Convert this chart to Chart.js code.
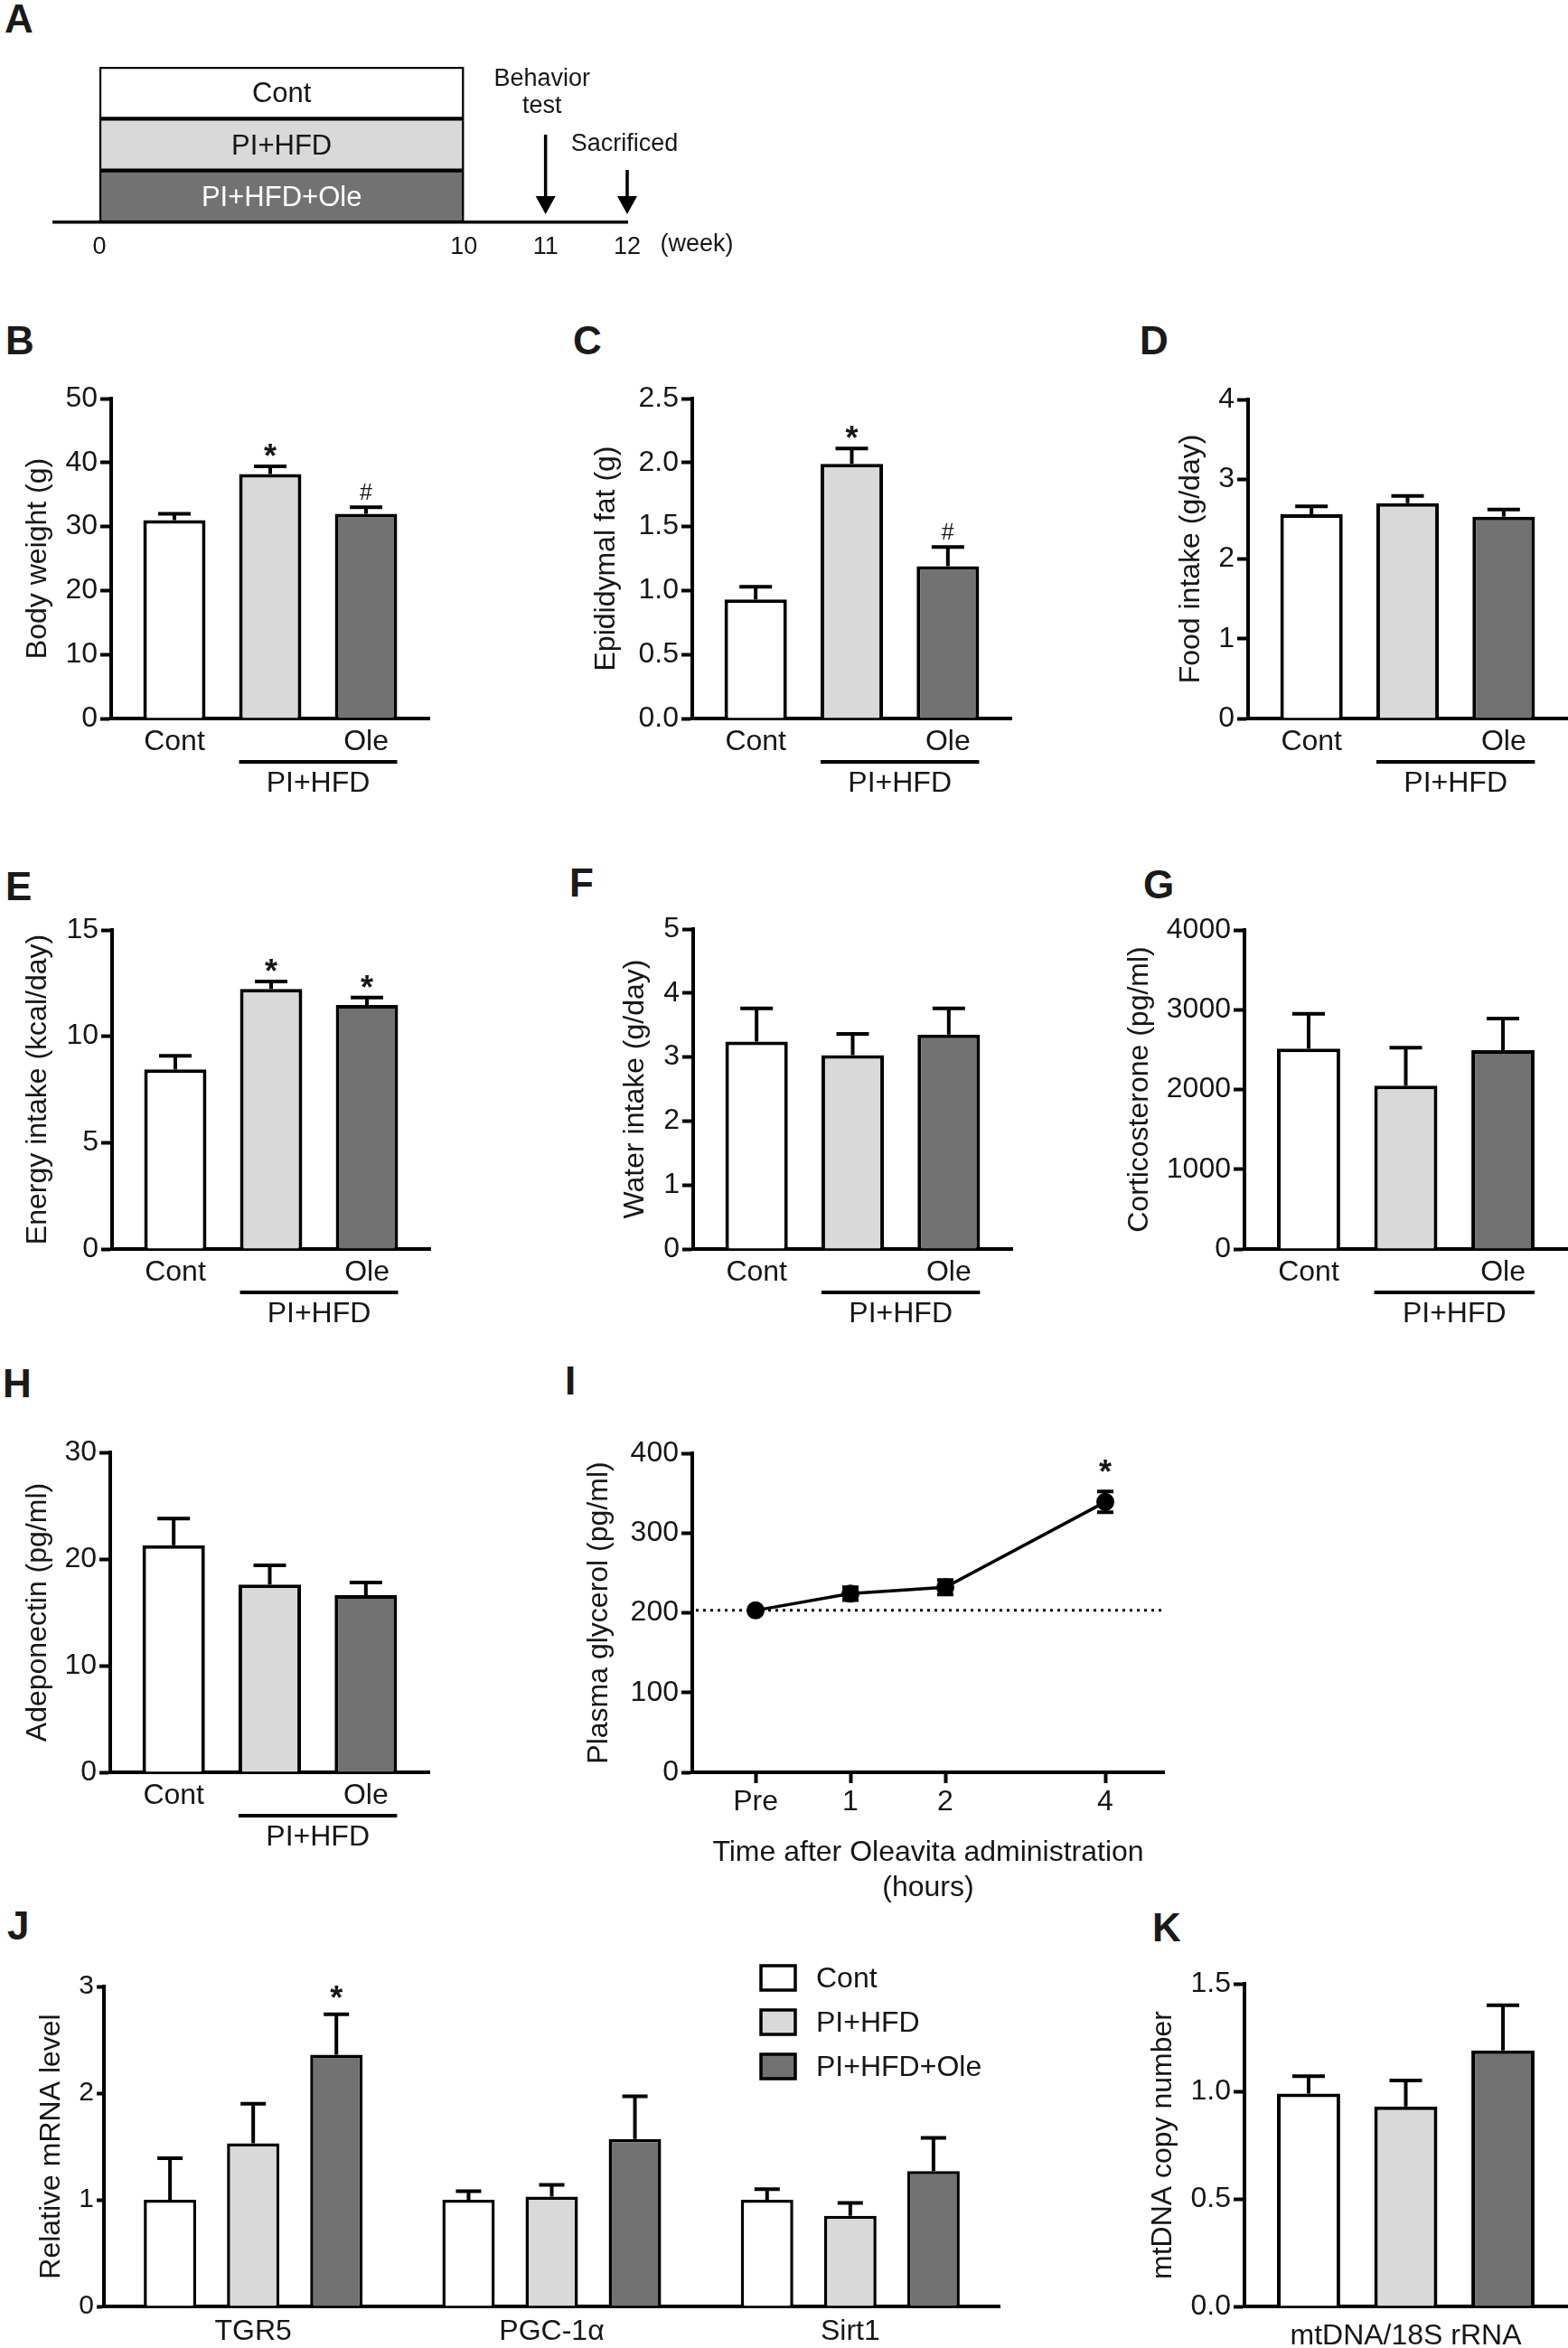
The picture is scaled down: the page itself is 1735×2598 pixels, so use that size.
<!DOCTYPE html>
<html lang="en">
<head>
<meta charset="UTF-8">
<title>Oleavita multi-panel figure</title>
<script src="https://cdn.jsdelivr.net/npm/chart.js@4.4.1/dist/chart.umd.min.js"></script>
<style>
    html, body {
        margin: 0;
        padding: 0;
        background: #ffffff;
        overflow: hidden;
    }

    body {
        position: relative;
        width: 1735px;
        height: 2598px;
        font-family: "Liberation Sans", Arial, Helvetica, sans-serif;
        color: #161616;
    }

    canvas {
        position: absolute;
    }

    .letter {
        position: absolute;
        font-weight: bold;
        font-size: 44px;
        line-height: 44px;
        color: #1a1a1a;
    }
</style>
</head>
<body>
<div class="letter" style="left:5px;top:-1px">A</div>
<div class="letter" style="left:6px;top:355px">B</div>
<div class="letter" style="left:634px;top:355px">C</div>
<div class="letter" style="left:1261px;top:355px">D</div>
<div class="letter" style="left:6px;top:959px">E</div>
<div class="letter" style="left:630px;top:955px">F</div>
<div class="letter" style="left:1265px;top:957px">G</div>
<div class="letter" style="left:3px;top:1509px">H</div>
<div class="letter" style="left:625px;top:1506px">I</div>
<div class="letter" style="left:8px;top:2109px">J</div>
<div class="letter" style="left:1275px;top:2111px">K</div>
<script>
    // ---- data ----
    var groups = ['Cont', 'PI+HFD', 'PI+HFD+Ole'];
    var axisNames = ['Cont', '', 'Ole'];
    var groupBracket = 'PI+HFD';

    var weekTicks = [0, 10, 11, 12];
    var treatWeeks = [0, 10];
    var behaviorWeek = 11;
    var sacrificeWeek = 12;

    var bodyWeight = [31.0, 38.2, 32.0];
    var bodyWeightSem = [1.0, 1.2, 1.0];
    var epiFat = [0.93, 1.99, 1.19];
    var epiFatSem = [0.10, 0.12, 0.15];
    var foodIntake = [2.56, 2.70, 2.53];
    var foodIntakeSem = [0.10, 0.09, 0.09];
    var energyIntake = [8.45, 12.23, 11.47];
    var energyIntakeSem = [0.63, 0.35, 0.35];
    var waterIntake = [3.24, 3.03, 3.35];
    var waterIntakeSem = [0.52, 0.33, 0.41];
    var corticosterone = [2513, 2048, 2493];
    var corticosteroneSem = [436, 477, 396];
    var adiponectin = [21.3, 17.6, 16.6];
    var adiponectinSem = [2.5, 1.8, 1.2];

    var timeLabels = ['Pre', '1', '2', '4'];
    var timeHours = [0, 1, 2, 4];
    var glycerol = [203, 224, 232, 339];
    var glycerolSem = [3, 8, 9, 13];

    var genes = ['TGR5', 'PGC-1\u03b1', 'Sirt1'];
    var mrnaCont = [1.0, 1.0, 1.0];
    var mrnaContSem = [0.39, 0.08, 0.10];
    var mrnaPi = [1.53, 1.03, 0.85];
    var mrnaPiSem = [0.37, 0.11, 0.12];
    var mrnaOle = [2.36, 1.57, 1.27];
    var mrnaOleSem = [0.38, 0.40, 0.31];

    var mtdna = [0.99, 0.93, 1.19];
    var mtdnaSem = [0.08, 0.12, 0.21];

    // ---- look ----
    var FONT = '"Liberation Sans", Arial, Helvetica, sans-serif';
    var INK = '#161616';
    var fills = ['#ffffff', '#d9d9d9', '#727272'];

    function makeCanvas(box) {
        var c = document.createElement('canvas');
        c.width = box.w;
        c.height = box.h;
        c.style.left = box.x + 'px';
        c.style.top = box.y + 'px';
        document.body.appendChild(c);
        return c.getContext('2d');
    }

    function font(size, bold) {
        return (bold ? 'bold ' : '') + size + 'px ' + FONT;
    }

    // error bars (+ significance marks) on top of bars / points
    var errorBars = {
        id: 'errorBars',
        afterDatasetsDraw: function (chart) {
            var ctx = chart.ctx;
            var ys = chart.scales.y;
            chart.data.datasets.forEach(function (ds, di) {
                if (!ds.errors) return;
                var meta = chart.getDatasetMeta(di);
                var both = chart.config.type === 'line';
                var cap = ds.capHalf || 18;
                ctx.save();
                ctx.strokeStyle = '#000';
                ctx.lineWidth = ds.errWidth || 4;
                meta.data.forEach(function (el, i) {
                    var raw = ds.data[i];
                    var v = typeof raw === 'object' ? raw.y : raw;
                    var top = ys.getPixelForValue(v + ds.errors[i]);
                    var low = both ? ys.getPixelForValue(v - ds.errors[i]) : el.y;
                    ctx.beginPath();
                    ctx.moveTo(el.x, low);
                    ctx.lineTo(el.x, top);
                    ctx.moveTo(el.x - cap, top);
                    ctx.lineTo(el.x + cap, top);
                    if (both) {
                        ctx.moveTo(el.x - cap, low);
                        ctx.lineTo(el.x + cap, low);
                    }
                    ctx.stroke();
                    var mark = ds.marks && ds.marks[i];
                    if (mark) {
                        var gap = ds.markGap || 20;
                        ctx.fillStyle = INK;
                        ctx.textAlign = 'center';
                        ctx.textBaseline = 'alphabetic';
                        if (mark === '*') {
                            ctx.font = font(36, true);
                            ctx.fillText('*', el.x, top - gap + 21);
                        } else {
                            ctx.font = font(25, false);
                            ctx.fillText(mark, el.x, top - 16 + 8);
                        }
                    }
                });
                ctx.restore();
            });
        }
    };

    // underline + label below the two treated groups
    var bracket = {
        id: 'bracket',
        afterDraw: function (chart, args, opts) {
            if (!opts || !opts.label) return;
            var ctx = chart.ctx;
            var meta = chart.getDatasetMeta(0);
            var a = meta.data[1], b = meta.data[2];
            var x1 = a.x - a.width / 2, x2 = b.x + b.width / 2;
            var y0 = chart.scales.y.getPixelForValue(0);
            ctx.save();
            ctx.fillStyle = '#000';
            ctx.fillRect(x1, y0 + 46, x2 - x1, 4);
            ctx.fillStyle = INK;
            ctx.font = font(32);
            ctx.textAlign = 'center';
            ctx.textBaseline = 'middle';
            ctx.fillText(opts.label, (x1 + x2) / 2, y0 + 72);
            ctx.restore();
        }
    };

    function yAxis(box, max, step, dec, title, size, tickLen) {
        return {
            min: 0,
            max: max,
            afterFit: function (s) { s.width = box.axisX - box.x; },
            border: {color: '#000', width: 4},
            grid: {drawOnChartArea: false, color: '#000', tickLength: tickLen || 12, tickWidth: 4},
            ticks: {
                stepSize: step, color: INK, padding: 3,
                font: {family: FONT, size: size || 32},
                callback: function (v) { return Number(v).toFixed(dec); }
            },
            title: {
                display: true, text: title, color: INK,
                font: {family: FONT, size: 32},
                padding: {top: box.titleX - box.x - 19.2, bottom: 0}
            }
        };
    }

    function barPanel(box, cfg) {
        box.w = box.endX - box.x + 20;
        box.h = box.bottom - box.y;
        var ctx = makeCanvas(box);
        var xTitle = cfg.xTitle;
        return new Chart(ctx, {
            type: 'bar',
            data: {
                datasets: [{
                    data: cfg.values.map(function (v, i) { return {x: i + 1, y: v}; }),
                    errors: cfg.sems,
                    marks: cfg.marks || [],
                    backgroundColor: fills,
                    borderColor: '#000',
                    borderWidth: 4,
                    barPercentage: 0.65,
                    categoryPercentage: 1
                }]
            },
            options: {
                responsive: false,
                animation: false,
                layout: {padding: {top: box.topY - box.y, right: 20, left: 0, bottom: 0}},
                plugins: {
                    legend: {display: false},
                    tooltip: {enabled: false},
                    bracket: xTitle ? false : {label: groupBracket}
                },
                scales: {
                    x: {
                        type: 'linear', min: 0.34, max: 3.66,
                        offset: false,
                        afterFit: function (s) { s.height = box.bottom - box.zeroY; },
                        afterBuildTicks: function (s) {
                            s.ticks = [];
                            axisNames.forEach(function (n, i) { if (n) s.ticks.push({value: i + 1}); });
                        },
                        border: {color: '#000', width: 4},
                        grid: {display: false, offset: false},
                        ticks: {
                            display: !xTitle, color: INK, padding: -1, maxRotation: 0, autoSkip: false,
                            font: {family: FONT, size: 32},
                            callback: function (v) { return axisNames[v - 1]; }
                        },
                        title: xTitle ? {
                            display: true, text: xTitle, color: INK,
                            font: {family: FONT, size: 32},
                            padding: {top: 0, bottom: box.titlePad || 0}
                        } : {display: false}
                    },
                    y: yAxis(box, cfg.max, cfg.step, cfg.dec || 0, cfg.title)
                }
            },
            plugins: [errorBars, bracket]
        });
    }

    // ---- A: study schedule ----
    function weekPos(w) {
        return w <= treatWeeks[1] ? w : treatWeeks[1] + (w - treatWeeks[1]) * 2.24;
    }

    var schedule = {
        id: 'schedule',
        afterDatasetsDraw: function (chart) {
            var ctx = chart.ctx;
            var xs = chart.scales.x;
            var area = chart.chartArea;
            var meta = chart.getDatasetMeta(0);
            ctx.save();
            ctx.textAlign = 'center';
            ctx.textBaseline = 'middle';
            ctx.font = font(31);
            meta.data.forEach(function (el, i) {
                ctx.fillStyle = i === 2 ? '#ffffff' : INK;
                ctx.fillText(groups[i], (el.x + el.base) / 2, el.y + 2);
            });

            function arrow(x, y1, y2) {
                ctx.strokeStyle = '#000';
                ctx.lineWidth = 3.5;
                ctx.beginPath();
                ctx.moveTo(x, y1);
                ctx.lineTo(x, y2 - 16);
                ctx.stroke();
                ctx.fillStyle = '#000';
                ctx.beginPath();
                ctx.moveTo(x - 11, y2 - 20);
                ctx.lineTo(x + 11, y2 - 20);
                ctx.lineTo(x, y2);
                ctx.closePath();
                ctx.fill();
            }

            var xb = xs.getPixelForValue(weekPos(behaviorWeek));
            var xsac = xs.getPixelForValue(weekPos(sacrificeWeek));
            arrow(xb, area.bottom - 97, area.bottom - 9);
            arrow(xsac, area.bottom - 58, area.bottom - 9);
            ctx.fillStyle = INK;
            ctx.font = font(27);
            ctx.fillText('Behavior', xb - 4, area.bottom - 158);
            ctx.fillText('test', xb - 4, area.bottom - 128);
            ctx.fillText('Sacrificed', xsac - 3, area.bottom - 86);
            ctx.font = font(27);
            ctx.fillText('(week)', xsac + 77, area.bottom + 25);
            ctx.restore();
        }
    };

    (function () {
        var box = {x: 0, y: 40, w: 860, h: 260};
        var ctx = makeCanvas(box);
        new Chart(ctx, {
            type: 'bar',
            data: {
                labels: groups,
                datasets: [{
                    data: groups.map(function () { return [weekPos(treatWeeks[0]), weekPos(treatWeeks[1])]; }),
                    backgroundColor: fills,
                    borderColor: '#000',
                    borderWidth: 2.5,
                    borderSkipped: false,
                    barPercentage: 1,
                    categoryPercentage: 1
                }]
            },
            options: {
                indexAxis: 'y',
                responsive: false,
                animation: false,
                layout: {padding: {left: 60, top: 34, right: 166, bottom: 0}},
                plugins: {legend: {display: false}, tooltip: {enabled: false}},
                scales: {
                    y: {display: false},
                    x: {
                        type: 'linear', min: -1.24, max: weekPos(weekTicks[weekTicks.length - 1]),
                        offset: false,
                        afterFit: function (s) { s.height = 54; },
                        afterBuildTicks: function (s) {
                            s.ticks = weekTicks.map(function (w) { return {value: weekPos(w)}; });
                        },
                        border: {color: '#000', width: 3.5},
                        grid: {display: false},
                        ticks: {
                            color: INK, padding: 3, maxRotation: 0, autoSkip: false,
                            font: {family: FONT, size: 27},
                            callback: function (v, i) { return String(weekTicks[i]); }
                        }
                    }
                }
            },
            plugins: [schedule]
        });
    })();

    // ---- B to H: group bar charts ----
    barPanel({x: 0, y: 400, axisX: 123, topY: 441, zeroY: 795, endX: 475, titleX: 42, bottom: 895},
        {values: bodyWeight, sems: bodyWeightSem, marks: ['', '*', '#'], max: 50, step: 10, title: 'Body weight (g)'});
    barPanel({x: 640, y: 400, axisX: 766, topY: 441, zeroY: 795, endX: 1119, titleX: 671, bottom: 895},
        {values: epiFat, sems: epiFatSem, marks: ['', '*', '#'], max: 2.5, step: 0.5, dec: 1, title: 'Epididymal fat (g)'});
    barPanel({x: 1280, y: 400, axisX: 1381, topY: 442, zeroY: 795, endX: 1734, titleX: 1318, bottom: 895},
        {values: foodIntake, sems: foodIntakeSem, max: 4, step: 1, title: 'Food intake (g/day)'});

    barPanel({x: 0, y: 990, axisX: 124, topY: 1029, zeroY: 1382, endX: 476, titleX: 42, bottom: 1482},
        {values: energyIntake, sems: energyIntakeSem, marks: ['', '*', '*'], max: 15, step: 5, title: 'Energy intake (kcal/day)'});
    barPanel({x: 660, y: 990, axisX: 767, topY: 1028, zeroY: 1382, endX: 1120, titleX: 703, bottom: 1482},
        {values: waterIntake, sems: waterIntakeSem, max: 5, step: 1, title: 'Water intake (g/day)'});
    barPanel({x: 1220, y: 990, axisX: 1377, topY: 1029, zeroY: 1382, endX: 1734, titleX: 1261, bottom: 1482},
        {values: corticosterone, sems: corticosteroneSem, max: 4000, step: 1000, title: 'Corticosterone (pg/ml)'});

    barPanel({x: 0, y: 1560, axisX: 122, topY: 1607, zeroY: 1961, endX: 475, titleX: 42, bottom: 2061},
        {values: adiponectin, sems: adiponectinSem, max: 30, step: 10, title: 'Adeponectin (pg/ml)'});

    // ---- I: plasma glycerol time course ----
    // the original spaces Pre, 1 and 2 h evenly and pulls 4 h in a little
    function timeSlot(h) {
        return h <= 2 ? h : 2 + (h - 2) * 0.843;
    }

    var baseline = {
        id: 'baseline',
        beforeDatasetsDraw: function (chart) {
            var ctx = chart.ctx, area = chart.chartArea;
            var y = chart.scales.y.getPixelForValue(glycerol[0]);
            ctx.save();
            ctx.strokeStyle = '#000';
            ctx.lineWidth = 3;
            ctx.setLineDash([3, 5]);
            ctx.beginPath();
            ctx.moveTo(area.left + 4, y);
            ctx.lineTo(area.right, y);
            ctx.stroke();
            ctx.restore();
        }
    };

    (function () {
        var box = {x: 620, y: 1540, axisX: 766, topY: 1608, zeroY: 1961, endX: 1288, titleX: 663, bottom: 2110};
        box.w = box.endX - box.x + 20;
        box.h = box.bottom - box.y;
        var ctx = makeCanvas(box);
        new Chart(ctx, {
            type: 'line',
            data: {
                datasets: [{
                    data: timeHours.map(function (h, i) { return {x: timeSlot(h), y: glycerol[i]}; }),
                    errors: glycerolSem,
                    marks: ['', '', '', '*'],
                    markGap: 30,
                    capHalf: 9,
                    borderColor: '#000',
                    borderWidth: 3.5,
                    pointRadius: 10,
                    pointBackgroundColor: '#000',
                    pointBorderWidth: 0,
                    tension: 0
                }]
            },
            options: {
                responsive: false,
                animation: false,
                layout: {padding: {top: box.topY - box.y, right: 20, left: 0, bottom: 0}},
                plugins: {legend: {display: false}, tooltip: {enabled: false}},
                scales: {
                    x: {
                        type: 'linear', min: -0.667, max: 4.305,
                        afterFit: function (s) { s.height = box.bottom - box.zeroY; },
                        afterBuildTicks: function (s) {
                            s.ticks = timeHours.map(function (h) { return {value: timeSlot(h)}; });
                        },
                        border: {color: '#000', width: 4},
                        grid: {drawOnChartArea: false, color: '#000', tickLength: 12, tickWidth: 4},
                        ticks: {
                            color: INK, padding: 2, maxRotation: 0, autoSkip: false,
                            font: {family: FONT, size: 32},
                            callback: function (v, i) { return timeLabels[i]; }
                        },
                        title: {
                            display: true, color: INK,
                            text: ['Time after Oleavita administration', '(hours)'],
                            font: {family: FONT, size: 32},
                            padding: {top: 0, bottom: 2}
                        }
                    },
                    y: yAxis(box, 400, 100, 0, 'Plasma glycerol (pg/ml)')
                }
            },
            plugins: [baseline, errorBars]
        });
    })();

    // ---- J: relative mRNA level ----
    var boxLegend = {
        id: 'boxLegend',
        afterDraw: function (chart, args, opts) {
            var ctx = chart.ctx, area = chart.chartArea;
            ctx.save();
            chart.data.datasets.forEach(function (ds, i) {
                var x = area.left + opts.dx, y = area.top + opts.dy + i * opts.step;
                ctx.fillStyle = ds.backgroundColor;
                ctx.fillRect(x, y, 38, 27);
                ctx.strokeStyle = '#000';
                ctx.lineWidth = 3.5;
                ctx.strokeRect(x, y, 38, 27);
                ctx.fillStyle = INK;
                ctx.font = font(32);
                ctx.textAlign = 'left';
                ctx.textBaseline = 'middle';
                ctx.fillText(ds.label, x + 61, y + 15);
            });
            ctx.restore();
        }
    };

    (function () {
        var box = {x: 0, y: 2140, axisX: 115, topY: 2198, zeroY: 2552, endX: 1106, titleX: 57, bottom: 2598};
        box.w = box.endX - box.x + 20;
        box.h = box.bottom - box.y;
        var ctx = makeCanvas(box);
        var series = [[mrnaCont, mrnaContSem, []], [mrnaPi, mrnaPiSem, []], [mrnaOle, mrnaOleSem, ['*', '', '']]];
        new Chart(ctx, {
            type: 'bar',
            data: {
                labels: genes,
                datasets: series.map(function (s, k) {
                    return {
                        label: groups[k],
                        data: s[0],
                        errors: s[1],
                        marks: s[2],
                        markGap: 27,
                        capHalf: 14,
                        backgroundColor: fills[k],
                        borderColor: '#000',
                        borderWidth: 3.5,
                        barPercentage: 0.63,
                        categoryPercentage: 0.836
                    };
                })
            },
            options: {
                responsive: false,
                animation: false,
                layout: {padding: {top: box.topY - box.y, right: 20, left: 0, bottom: 0}},
                plugins: {
                    legend: {display: false},
                    tooltip: {enabled: false},
                    boxLegend: {dx: 727, dy: -23, step: 49}
                },
                scales: {
                    x: {
                        afterFit: function (s) { s.height = box.bottom - box.zeroY; },
                        border: {color: '#000', width: 4},
                        grid: {display: false},
                        ticks: {color: INK, padding: 1, font: {family: FONT, size: 32}}
                    },
                    y: yAxis(box, 3, 1, 0, 'Relative mRNA level', 30, 8)
                }
            },
            plugins: [errorBars, boxLegend]
        });
    })();

    // ---- K: mtDNA copy number ----
    barPanel({x: 1240, y: 2140, axisX: 1377, topY: 2195, zeroY: 2552, endX: 1734, titleX: 1287, bottom: 2615, titlePad: 11},
        {values: mtdna, sems: mtdnaSem, max: 1.5, step: 0.5, dec: 1, title: 'mtDNA copy number', xTitle: 'mtDNA/18S rRNA'});
</script>
</body>
</html>
